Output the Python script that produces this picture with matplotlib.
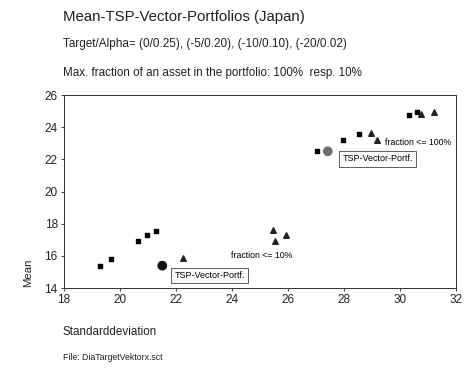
import matplotlib.pyplot as plt

plt.rcParams['font.family'] = ['Liberation Sans', 'DejaVu Sans']

# squares (one series), triangles (other series), TSP-vector portfolios
sq_x = [19.30, 19.68, 20.63, 20.98, 21.27, 27.03, 27.95, 28.54, 30.31, 30.60]
sq_y = [15.37, 15.82, 16.90, 17.27, 17.54, 22.50, 23.19, 23.58, 24.76, 24.92]
tri_x = [22.24, 25.48, 25.54, 25.93, 28.97, 29.17, 30.75, 31.23]
tri_y = [15.86, 17.60, 16.94, 17.31, 23.62, 23.21, 24.80, 24.97]
tsp_x = [21.51, 27.42]
tsp_y = [15.39, 22.50]
tsp_colors = ["#111111", "#6e6e6e"]

fig = plt.figure(figsize=(4.74, 3.70), dpi=100)
ax = fig.add_axes([0.135, 0.2216, 0.827, 0.5216])

ax.scatter(sq_x, sq_y, marker="s", s=8, color="black", zorder=3)
ax.scatter(tri_x, tri_y, marker="^", s=16, color="#222222", zorder=3)
ax.scatter(tsp_x, tsp_y, marker="o", s=36, c=tsp_colors, zorder=3)

ax.set_xlim(18, 32)
ax.set_ylim(14, 26)
ax.set_xticks(range(18, 33, 2))
ax.set_yticks(range(14, 27, 2))
ax.tick_params(labelsize=8.5, length=2.5, width=0.6, pad=2, colors="#222222")
for sp in ax.spines.values():
    sp.set_linewidth(0.7)
    sp.set_color("#333333")

# annotations
ax.text(29.48, 23.04, "fraction <= 100%", fontsize=6.3, va="center", ha="left")
ax.text(23.98, 16.0, "fraction <= 10%", fontsize=6.3, va="center", ha="left")
box = dict(boxstyle="square,pad=0.35", fc="white", ec="#444444", lw=0.6)
ax.text(29.2, 22.03, "TSP-Vector-Portf.", fontsize=6.5, va="center", ha="center", bbox=box)
ax.text(23.2, 14.77, "TSP-Vector-Portf.", fontsize=6.5, va="center", ha="center", bbox=box)

# titles and labels
fig.text(63 / 474, 1 - 17 / 370, "Mean-TSP-Vector-Portfolios (Japan)", fontsize=10.8, va="center", color="#222222")
fig.text(63 / 474, 1 - 44 / 370, "Target/Alpha= (0/0.25), (-5/0.20), (-10/0.10), (-20/0.02)",
         fontsize=8.5, va="center", color="#222222")
fig.text(63 / 474, 1 - 73 / 370, "Max. fraction of an asset in the portfolio: 100%  resp. 10%",
         fontsize=8.35, va="center", color="#222222")
fig.text(28 / 474, 1 - 273 / 370, "Mean", fontsize=8.2, rotation=90, va="center", ha="center", color="#222222")
fig.text(63 / 474, 1 - 332 / 370, "Standarddeviation", fontsize=8.4, va="center", color="#222222")
fig.text(63 / 474, 1 - 357 / 370, "File: DiaTargetVektorx.sct", fontsize=6.3, va="center", color="#222222")

fig.savefig("out.png", dpi=100)
